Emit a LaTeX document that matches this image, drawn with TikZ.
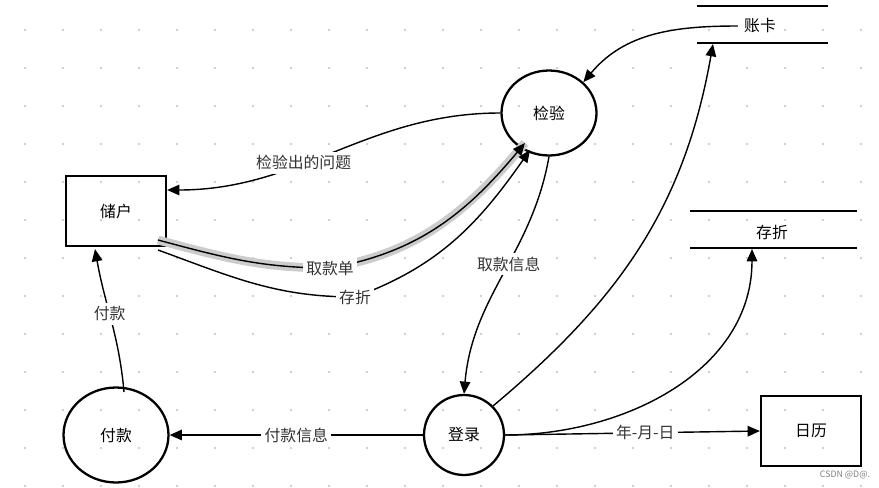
\documentclass[tikz,border=0pt]{standalone}
\usepackage{fontspec}
\setmainfont{Noto Sans CJK SC}
\usetikzlibrary{arrows.meta,shapes.geometric}
\tikzset{
  proc/.style={draw,line width=1.3pt,ellipse,minimum width=1.9cm,minimum height=1.7cm,font=\small},
  ent/.style={draw,line width=1.3pt,rectangle,minimum width=2.0cm,minimum height=1.4cm,font=\small},
  flow/.style={-{Triangle[length=7pt,width=6pt]},thick},
  lab/.style={fill=white,inner sep=2pt,font=\small,text=black!80}
}
\begin{document}
\begin{tikzpicture}[x=0.02cm,y=-0.02cm]
  \useasboundingbox (0,0) rectangle (879,487);
  % grid dots
  \foreach \i in {0,...,22} \foreach \j in {0,...,12}
    \fill[black!25] (25+38*\i,30+38*\j) circle (0.6pt);
  % nodes
  \node[ent] (chu) at (116,211) {储户};
  \node[proc] (jy) at (549,113) {检验};
  \node[proc,minimum width=2.1cm,minimum height=1.9cm] (fk) at (116,435) {付款};
  \node[proc,minimum width=1.6cm,minimum height=1.6cm] (dl) at (464,435) {登录};
  \node[ent] (rl) at (811,431) {日历};
  \node[font=\small] (zk) at (760,26) {账卡};
  \draw[line width=1.3pt] (697,6) -- (828,6) (697,43) -- (828,43);
  \node[font=\small] (cz) at (772,232) {存折};
  \draw[line width=1.3pt] (690,211) -- (857,211) (690,248) -- (857,248);
  \coordinate (zkb) at (713,44);
  \coordinate (czb) at (752,249);
  \coordinate (fkt) at (124,392);
  \coordinate (chub) at (95,249);
  % flows
  \draw[flow] (jy.west) to[out=180,in=0] node[lab,pos=0.6] {检验出的问题} (chu.east |- 0,190);
  \draw[black!20,line width=5pt] (158,240) to[out=-15,in=180] (330,268) to[out=10,in=-130] (525,143);
  \draw[flow] (158,240) to[out=-15,in=180] node[lab,pos=1] {取款单} (330,268) to[out=10,in=-130] (525,143);
  \draw[flow] (158,250) to[out=-20,in=180] node[lab,pos=1] {存折} (355,297) to[out=20,in=-125] (530,150);
  \draw[flow] (jy.south) to[out=-100,in=85] node[lab,pos=0.45] {取款信息} (dl.north);
  \draw[flow] (zk.west) to[out=180,in=50] (jy.north east);
  \draw[flow] (dl.north east) to[out=40,in=-100] (zkb);
  \draw[flow] (dl.east) to[out=0,in=-90] (czb);
  \draw[flow] (dl.west) -- node[lab] {付款信息} (fk.east);
  \draw[flow] (dl.east) -- node[lab,pos=0.55] {年-月-日} (rl.west);
  \draw[flow] (fkt) to[out=95,in=-80] node[lab,pos=0.55] {付款} (chub);
  \node[font=\tiny,text=black!50] at (845,475) {CSDN @D@.};
\end{tikzpicture}
\end{document}
